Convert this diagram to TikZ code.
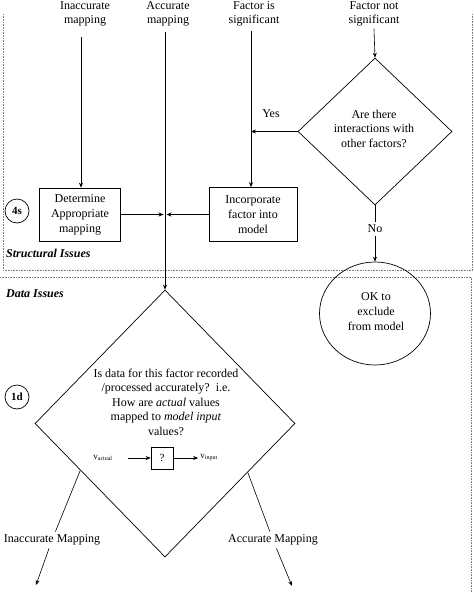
\documentclass[tikz,border=0pt]{standalone}
\usepackage{fontspec}
\setmainfont{Liberation Serif}
\usetikzlibrary{shapes.geometric,arrows.meta}
\begin{document}
\begin{tikzpicture}[x=1pt,y=-1pt,
  txt/.style={align=center,inner sep=0pt,font=\fontsize{12}{14.5}\selectfont},
  procbox/.style={draw,line width=0.7pt,align=center,inner sep=0pt,font=\fontsize{12}{15}\selectfont},
  decide/.style={draw,diamond,line width=0.7pt,inner sep=0pt},
  conn/.style={line width=0.6pt},
  arr/.style={conn,-{Stealth[length=5pt,width=4pt]}},
  brk/.style={align=center,inner sep=3pt,font=\fontsize{12}{14}\selectfont},
  frame/.style={gray,densely dotted,line width=0.6pt},
  num/.style={circle,draw,line width=0.7pt,minimum size=24pt,inner sep=0pt,font=\bfseries\fontsize{11}{12}\selectfont},
  region/.style={anchor=west,inner sep=0pt,font=\bfseries\itshape\fontsize{12}{14}\selectfont}]
\useasboundingbox (0,0) rectangle (474,592);

% region frames
\draw[frame] (3,14) -- (3,270) -- (472.5,270) -- (472.5,14);
\draw[frame] (0,277) -- (471.5,277) -- (471.5,592);
\node[region] (si) at (6,253) {Structural Issues};
\node[region] (di) at (6,294) {Data Issues};

% top labels
\node[txt] (t1) at (85,14) {Inaccurate\\mapping};
\node[txt] (t2) at (168,14) {Accurate\\mapping};
\node[txt] (t3) at (254,14) {Factor is\\significant};
\node[txt] (t4) at (374,14) {Factor not\\significant};
\coordinate (s1) at (81,37);
\coordinate (s2) at (165,32);
\coordinate (s3) at (251,31);
\coordinate (s4) at (374,29);

% structural part
\node[procbox,minimum width=81pt,minimum height=53pt] (det) at (80,214.5) {Determine\\Appropriate\\mapping};
\node[procbox,minimum width=88pt,minimum height=54pt] (inc) at (253,214.5) {Incorporate\\factor into\\model};
\node[decide,minimum width=154pt,minimum height=147pt] (d1) at (375,131.5) {};
\node[txt] (d1t) at (374,128.5) {Are there\\interactions with\\other factors?};
\node[brk] (no) at (375,229) {No};
\node[draw,ellipse,line width=0.7pt,minimum width=111pt,minimum height=103pt,inner sep=0pt] (ok) at (375,313.5) {};
\node[txt,font=\fontsize{12}{15}\selectfont] (okt) at (376,312) {OK to\\exclude\\from model};
\node[txt] (yes) at (271,114) {Yes};
\node[num] (n4s) at (17,211) {4s};

\coordinate (jy) at (251,131.5);
\coordinate (jm) at (165,214.5);

\draw[arr] (s1) -- (s1 |- det.north);
\draw[arr] (s3) -- (s3 |- inc.north);
\draw[arr] (s4) -- (d1.north);
\draw[arr] (d1.west) -- (jy);
\draw[conn] (d1.south) -- (no);
\draw[arr] (no) -- (ok.north);
\draw[arr] (det.east) -- ([xshift=-1.5pt]jm);
\draw[arr] (inc.west) -- ([xshift=1.5pt]jm);

% data part
\node[decide,minimum width=260pt,minimum height=267pt] (d2) at (165,423.5) {};
\draw[arr] (s2) -- (d2.north);
\node[txt] (d2t) at (166,402) {Is data for this factor recorded\\/processed accurately?~~i.e.\\How are \textit{actual} values\\mapped to \textit{model input}\\values?};
\node[num] (n1d) at (17,397) {1d};

\node[inner sep=0pt,font=\fontsize{9}{10}\selectfont] (va) at (103,458) {v\textsubscript{actual}};
\node[draw,line width=0.6pt,minimum width=22pt,minimum height=22pt,inner sep=0pt,font=\fontsize{11}{12}\selectfont] (q) at (162,458) {?};
\node[inner sep=0pt,font=\fontsize{9}{10}\selectfont] (vi) at (209,458) {v\textsubscript{input}};
\coordinate (qa) at (128,458);
\draw[arr] (qa) -- (q.west);
\draw[arr] (q.east) -- ([xshift=-2pt]vi.west);

\coordinate (l0) at (80,471);
\coordinate (l1) at (36,585);
\coordinate (r0) at (248,473);
\coordinate (r1) at (292,586);
\node[brk] (im) at (52,540) {Inaccurate Mapping};
\node[brk] (am) at (273,540) {Accurate Mapping};
\draw[conn] (l0) -- (im);
\draw[arr] (im) -- (l1);
\draw[conn] (r0) -- (am);
\draw[arr] (am) -- (r1);
\end{tikzpicture}
\end{document}
